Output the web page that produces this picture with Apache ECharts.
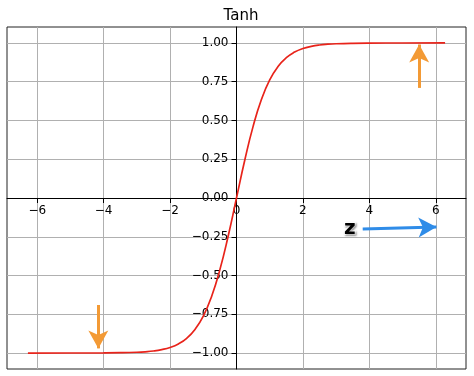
<!DOCTYPE html>
<html>
<head>
<meta charset="utf-8">
<script src="https://cdn.jsdelivr.net/npm/echarts@6/dist/echarts.min.js"></script>
<style>
  html, body { margin: 0; padding: 0; background: #fff; }
  #main { width: 474px; height: 376px; }
</style>
</head>
<body>
<div id="main"></div>
<script>
// values
var zValues = [-6.28, -5, -4, -3.5, -3, -2.75, -2.5, -2.25, -2, -1.75, -1.5, -1.25, -1, -0.75, -0.5, -0.25, 0,
    0.25, 0.5, 0.75, 1, 1.25, 1.5, 1.75, 2, 2.25, 2.5, 2.75, 3, 3.5, 4, 5, 6.28];
var tanhValues = [-1.0, -0.9999, -0.9993, -0.998, -0.995, -0.992, -0.987, -0.978, -0.964, -0.941, -0.905, -0.848, -0.762, -0.635, -0.462, -0.245, 0,
    0.245, 0.462, 0.635, 0.762, 0.848, 0.905, 0.941, 0.964, 0.978, 0.987, 0.992, 0.995, 0.998, 0.9993, 0.9999, 1.0];
var xTicks = [-6, -4, -2, 0, 2, 4, 6];
var yTicks = [-1, -0.75, -0.5, -0.25, 0, 0.25, 0.5, 0.75, 1];

var orange = '#f39a35';
var blue = '#2f8ce8';
var fontName = 'DejaVu Sans';

function minus(s) {
    return String(s).replace('-', '\u2212');
}

var points = zValues.map(function (z, i) {
    return [z, tanhValues[i]];
});

// plot box, spines sit in the middle of it
var gridLeft = 7, gridRight = 8, gridTop = 27, gridBottom = 7;
var boxW = 474 - gridLeft - gridRight;
var boxH = 376 - gridTop - gridBottom;

var chart = echarts.init(document.getElementById('main'));
var option = {
    animation: false,
    title: {
        text: 'Tanh',
        left: 236,
        textAlign: 'center',
        top: 4,
        textStyle: { fontFamily: fontName, fontSize: 15, fontWeight: 'normal', color: '#000' }
    },
    grid: {
        left: gridLeft,
        right: gridRight,
        top: gridTop,
        bottom: gridBottom,
        containLabel: false,
        outerBoundsMode: 'none',
        show: true,
        borderColor: '#222',
        borderWidth: 1,
        backgroundColor: 'transparent'
    },
    xAxis: {
        type: 'value',
        min: -6.91,
        max: 6.91,
        position: 'bottom',
        offset: -boxH / 2,
        axisLine: { onZero: false, lineStyle: { color: '#000', width: 1 } },
        axisTick: { show: true, length: 5, customValues: xTicks, lineStyle: { color: '#000' } },
        axisLabel: {
            customValues: xTicks,
            margin: 7,
            fontFamily: fontName,
            fontSize: 12,
            color: '#000',
            formatter: function (v) { return minus(v); }
        },
        splitLine: { show: true, lineStyle: { color: '#b0b0b0', width: 1 } }
    },
    yAxis: {
        type: 'value',
        min: -1.103,
        max: 1.103,
        position: 'left',
        offset: -boxW / 2,
        axisLine: { onZero: false, lineStyle: { color: '#000', width: 1 } },
        axisTick: { show: true, length: 5, customValues: yTicks, lineStyle: { color: '#000' } },
        axisLabel: {
            customValues: yTicks,
            margin: 8,
            fontFamily: fontName,
            fontSize: 12,
            color: '#000',
            formatter: function (v) { return minus(v.toFixed(2)); }
        },
        splitLine: { show: true, lineStyle: { color: '#b0b0b0', width: 1 } }
    },
    series: [{
        type: 'line',
        data: points,
        smooth: true,
        showSymbol: false,
        z: 5,
        lineStyle: { color: '#e8231a', width: 1.7 },
        markLine: {
            silent: true,
            symbol: ['none', 'arrow'],
            symbolSize: [15, 18],
            label: { show: false },
            data: [
                [{ coord: [5.5, 0.71], lineStyle: { color: orange, width: 3, type: 'solid' } },
                 { coord: [5.5, 0.99] }],
                [{ coord: [-4.16, -0.69], lineStyle: { color: orange, width: 3, type: 'solid' } },
                 { coord: [-4.16, -0.97] }],
                [{ coord: [3.8, -0.2], lineStyle: { color: blue, width: 3, type: 'solid' } },
                 { coord: [6.02, -0.187] }]
            ]
        },
        markPoint: {
            silent: true,
            symbolSize: 0,
            data: [{
                coord: [3.41, -0.2],
                label: {
                    show: true,
                    formatter: 'z',
                    fontFamily: fontName,
                    fontSize: 20,
                    fontWeight: 'bold',
                    color: '#000',
                    textBorderColor: '#fff',
                    textBorderWidth: 2,
                    textShadowColor: 'rgba(0,0,0,0.35)',
                    textShadowBlur: 2,
                    textShadowOffsetX: 1,
                    textShadowOffsetY: 1
                }
            }]
        }
    }]
};
chart.setOption(option);
</script>
</body>
</html>
